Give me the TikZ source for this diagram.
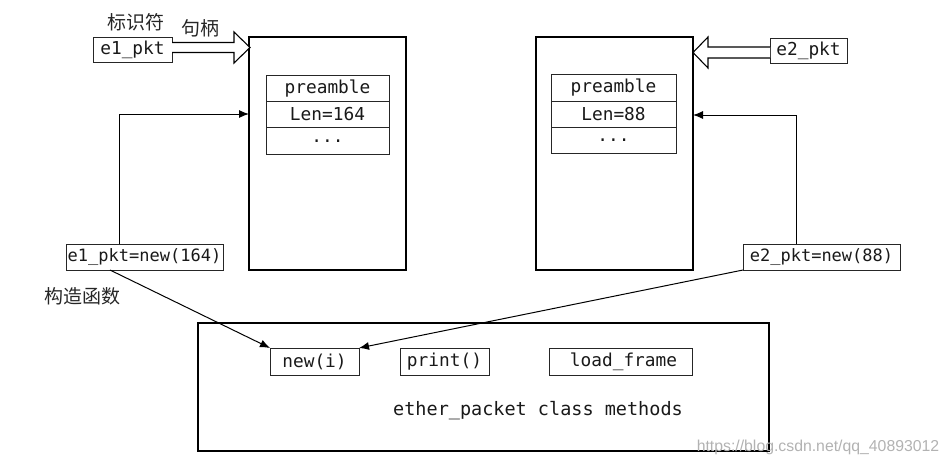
\documentclass[tikz,border=0pt]{standalone}
\usepackage{fontspec}
\setmonofont{DejaVu Sans Mono}
\newfontfamily\cjk{Noto Sans CJK SC}
\newfontfamily\wmfont{Liberation Sans}
\usetikzlibrary{arrows.meta,calc}
\begin{document}
\begin{tikzpicture}[x=1pt,y=-1pt,
  every node/.style={inner sep=0pt,outer sep=0pt},
  mono/.style={font=\ttfamily\fontsize{17.8}{18}\selectfont,text=black!90},
  bigbox/.style={draw,line width=1.1pt,minimum width=157pt,minimum height=233pt},
  cell/.style={draw=black!85,line width=0.9pt,mono,minimum width=#1,minimum height=26.33pt},
  sbox/.style={draw=black!85,line width=1pt,mono,minimum height=26pt},
  cjklab/.style={font=\cjk\fontsize{19}{19}\selectfont,text=black!85},
  arr/.style={line width=1pt,-{Latex[length=10pt,width=8pt]}},
  hollow/.style={draw,line width=1.1pt,fill=white,line join=miter}]
\useasboundingbox (0,0) rectangle (949,466);

% top-left label and handle
\node[cjklab] (lab1) at (136,22) {标识符};
\node[cjklab] (lab2) at (200,28) {句柄};
\node[sbox,minimum width=79pt,minimum height=25pt] (e1) at (132.5,50) {e1\_pkt};

% left object
\node[bigbox] (b1) at (327.5,153.5) {};
\node[cell=123pt] (t1a) at (327.5,88.17) {preamble};
\node[cell=123pt,anchor=north] (t1b) at (t1a.south) {Len=164};
\node[cell=123pt,anchor=north] (t1c) at (t1b.south) {...};

% right object
\node[bigbox] (b2) at (614.5,153.5) {};
\node[cell=125pt] (t2a) at (613.5,88) {preamble};
\node[cell=125pt,anchor=north,minimum height=26pt] (t2b) at (t2a.south) {Len=88};
\node[cell=125pt,anchor=north,minimum height=26pt] (t2c) at (t2b.south) {...};
\node[sbox,minimum width=77pt,minimum height=25pt] (e2) at (808.5,50.5) {e2\_pkt};

% constructor calls
\node[sbox,minimum width=157pt,font=\ttfamily\fontsize{17}{18}\selectfont] (c1) at (144.5,257) {e1\_pkt=new(164)};
\node[cjklab] (lab3) at (82,296) {构造函数};
\node[sbox,minimum width=157pt,font=\ttfamily\fontsize{17}{18}\selectfont] (c2) at (821.5,257) {e2\_pkt=new(88)};

% class methods box
\node[draw,line width=1.1pt,minimum width=571pt,minimum height=128pt] (cls) at (483.5,387) {};
\node[sbox,minimum width=89pt,minimum height=27pt] (m1) at (314.5,361.5) {new(i)};
\node[sbox,minimum width=89pt,minimum height=27pt] (m2) at (444.5,361.5) {print()};
\node[sbox,minimum width=143pt,minimum height=27pt] (m3) at (620.5,361.5) {\hspace*{6pt}load\_frame};
\node[font=\ttfamily\fontsize{18.5}{19}\selectfont,text=black!90] (ctext) at (538,411) {ether\_packet class methods};

% hollow handle arrows
\coordinate (h1) at (0,47.5);
\path[hollow] ($(e1.east|-h1)+(0,-5)$) -- (234,42.5) -- (234,32) -- (250,47.5) -- (234,63) -- (234,52.5) -- ($(e1.east|-h1)+(0,5)$);
\coordinate (h2) at (0,52.5);
\path[hollow] ($(e2.west|-h2)+(0,-5.5)$) -- (708,47) -- (708,37) -- (b2.east|-h2) -- (708,68) -- (708,58) -- ($(e2.west|-h2)+(0,5.5)$);

% references to the objects
\coordinate (v1) at (119,114);
\draw[arr] (c1.north-|v1) -- (v1) -- (b1.west|-v1);
\coordinate (v2) at (796,115);
\draw[arr] (c2.north-|v2) -- (v2) -- (b2.east|-v2);

% calls to the constructor
\draw[arr] ($(c1.south west)!0.28!(c1.south east)$) -- (m1.north west);
\draw[arr] (c2.south west) -- (m1.north east);

% watermark
\node[font=\wmfont\fontsize{15.8}{16}\selectfont,text=black!30] (wm) at (818,447) {https://blog.csdn.net/qq\_40893012};
\end{tikzpicture}
\end{document}
